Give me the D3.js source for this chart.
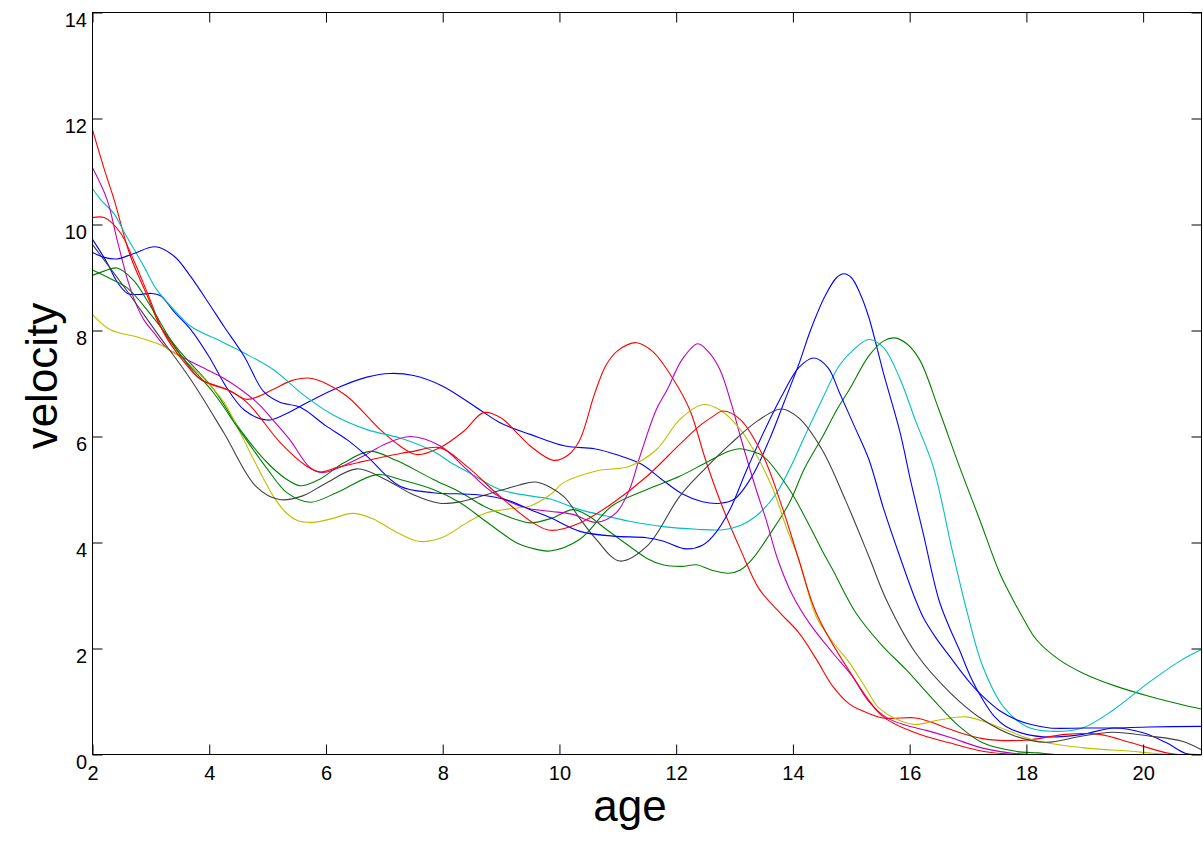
<!DOCTYPE html>
<html>
<head>
<meta charset="utf-8">
<script src="https://cdn.jsdelivr.net/npm/d3@7"></script>
<style>
  html, body { margin: 0; padding: 0; background: #fff; }
  svg { display: block; }
  text { font-family: "Liberation Sans", Arial, Helvetica, sans-serif; fill: #000; }
</style>
</head>
<body>
<svg id="chart" width="1203" height="855"></svg>
<script>
// ---- data: [age, velocity] pairs per boy ----
const boyBlueA = [[2,9.72],[2.25,9.28],[2.42,8.92],[2.6,8.7],[2.8,8.68],[3.0,8.7],[3.16,8.66],[3.4,8.35],[3.68,8.02],[4.0,7.5],[4.3,6.92],[4.6,6.5],[4.99,6.31],[5.3,6.42],[5.73,6.67],[6.2,6.92],[6.7,7.12],[7.1,7.19],[7.5,7.15],[8.0,6.95],[8.64,6.5],[9.0,6.25],[9.5,6.04],[10.1,5.82],[10.6,5.77],[11.0,5.65],[11.4,5.48],[11.8,5.15],[12.1,4.92],[12.45,4.77],[12.75,4.74],[13.0,4.82],[13.3,5.25],[13.6,5.95],[13.85,6.65],[14.1,7.36],[14.3,8.0],[14.55,8.65],[14.75,9.0],[14.87,9.07],[15.0,9.0],[15.15,8.7],[15.3,8.25],[15.55,7.2],[15.83,6.1],[16.03,5.1],[16.23,4.18],[16.5,2.92],[16.68,2.4],[16.85,1.98],[17.05,1.45],[17.25,1.04],[17.45,0.72],[17.65,0.53],[18.0,0.38],[18.4,0.33],[18.96,0.38],[19.5,0.5],[20.0,0.41],[20.4,0.22],[20.73,0.02],[21,0]];
const boyGreenA = [[2,9.14],[2.3,8.98],[2.6,8.8],[3.0,8.3],[3.5,7.6],[4.07,6.9],[4.53,6.13],[5.0,5.5],[5.33,5.19],[5.56,5.07],[5.9,5.2],[6.3,5.5],[6.76,5.72],[7.2,5.55],[7.84,5.19],[8.3,4.95],[8.7,4.69],[9.27,4.43],[9.5,4.37],[9.85,4.45],[10.23,4.62],[10.5,4.5],[10.8,4.25],[11.2,3.93],[11.5,3.7],[11.77,3.58],[12.1,3.55],[12.35,3.58],[12.6,3.48],[12.9,3.42],[13.1,3.48],[13.3,3.68],[13.6,4.15],[13.94,4.75],[14.2,5.4],[14.51,6.0],[14.75,6.5],[14.97,6.89],[15.3,7.52],[15.55,7.8],[15.74,7.86],[15.95,7.75],[16.17,7.45],[16.5,6.51],[16.85,5.44],[17.2,4.43],[17.54,3.43],[17.77,2.92],[17.94,2.58],[18.17,2.17],[18.56,1.79],[18.96,1.54],[19.53,1.29],[20.1,1.1],[20.67,0.94],[21,0.86]];
const boyRedA = [[2,11.79],[2.2,11.05],[2.37,10.47],[2.65,9.4],[2.94,8.65],[3.16,8.08],[3.5,7.55],[3.85,7.08],[4.36,6.86],[4.65,6.7],[5.1,6.89],[5.4,7.05],[5.73,7.1],[6.0,7.0],[6.36,6.76],[6.93,6.13],[7.27,5.82],[7.55,5.66],[7.95,5.79],[8.36,6.1],[8.7,6.45],[9.0,6.35],[9.27,6.07],[9.5,5.82],[9.9,5.55],[10.15,5.65],[10.35,5.94],[10.6,6.8],[10.8,7.35],[11.0,7.62],[11.32,7.77],[11.6,7.6],[11.95,7.08],[12.23,6.51],[12.52,5.5],[12.8,4.65],[13.1,3.87],[13.43,3.11],[13.8,2.65],[14.1,2.3],[14.4,1.8],[14.68,1.29],[14.97,0.95],[15.14,0.85],[15.54,0.69],[16.1,0.69],[16.4,0.6],[16.68,0.48],[17.25,0.3],[17.99,0.27],[18.67,0.38],[19.25,0.38],[19.8,0.22],[20.4,0.03],[20.6,0],[21,0]];
const boyCyan = [[2,10.68],[2.14,10.47],[2.37,10.2],[2.54,9.86],[2.88,9.21],[3.1,8.77],[3.45,8.33],[3.68,8.08],[4.25,7.77],[4.59,7.58],[5.1,7.26],[5.62,6.78],[6.1,6.42],[6.7,6.13],[7.27,5.97],[7.84,5.72],[8.15,5.5],[8.45,5.32],[8.98,5.0],[9.55,4.87],[9.84,4.82],[10.35,4.62],[10.8,4.5],[11.2,4.4],[11.77,4.3],[12.35,4.25],[12.8,4.24],[13.1,4.32],[13.37,4.5],[13.7,4.9],[13.94,5.38],[14.2,6.0],[14.5,6.7],[14.8,7.35],[15.05,7.65],[15.3,7.83],[15.55,7.68],[15.83,7.1],[16.1,6.3],[16.4,5.44],[16.74,3.8],[17.0,2.62],[17.25,1.67],[17.6,0.91],[18.0,0.53],[18.4,0.44],[18.96,0.5],[19.5,0.85],[20.1,1.36],[20.67,1.79],[21,1.98]];
const boyMagenta = [[2,11.07],[2.25,10.47],[2.42,9.72],[2.6,8.96],[2.76,8.46],[2.88,8.2],[3.05,7.96],[3.27,7.67],[3.5,7.52],[3.96,7.26],[4.25,7.1],[4.82,6.64],[5.1,6.3],[5.38,5.94],[5.73,5.41],[5.95,5.32],[6.2,5.4],[6.64,5.63],[7.0,5.85],[7.45,6.0],[7.96,5.82],[8.41,5.38],[8.86,4.94],[9.44,4.65],[9.84,4.59],[10.23,4.53],[10.63,4.38],[10.97,4.56],[11.2,5.0],[11.38,5.63],[11.66,6.51],[11.85,6.89],[12.1,7.45],[12.37,7.75],[12.55,7.6],[12.75,7.26],[12.95,6.6],[13.1,6.0],[13.37,5.0],[13.54,4.43],[13.74,3.68],[14.0,2.99],[14.3,2.45],[14.68,1.92],[15.0,1.5],[15.3,1.0],[15.6,0.7],[15.94,0.55],[16.3,0.45],[16.7,0.32],[17.25,0.12],[17.8,0.02],[18.2,0],[21,0]];
const boyYellow = [[2,8.3],[2.3,8.02],[2.82,7.86],[3.22,7.7],[3.56,7.45],[3.9,7.1],[4.25,6.65],[4.53,6.07],[4.82,5.44],[5.1,4.87],[5.3,4.58],[5.5,4.42],[5.78,4.38],[6.1,4.45],[6.45,4.55],[6.8,4.45],[7.2,4.2],[7.6,4.02],[8.0,4.1],[8.41,4.37],[8.75,4.56],[9.27,4.65],[9.5,4.69],[9.84,4.9],[10.07,5.13],[10.63,5.35],[11.2,5.44],[11.66,5.75],[12.06,6.32],[12.45,6.6],[12.75,6.5],[13.1,6.13],[13.4,5.6],[13.66,5.0],[13.9,4.25],[14.1,3.68],[14.4,2.6],[14.7,2.1],[14.97,1.73],[15.25,1.25],[15.5,0.85],[16.05,0.57],[16.5,0.65],[16.97,0.71],[17.5,0.53],[18.1,0.28],[18.96,0.13],[19.8,0.06],[20.1,0.03],[20.5,0],[21,0]];
const boyGray = [[2,9.62],[2.53,8.84],[3.1,7.96],[3.68,7.08],[4.25,6.07],[4.8,5.06],[5.2,4.81],[5.6,4.88],[6.0,5.12],[6.53,5.39],[7.0,5.2],[7.5,4.9],[7.95,4.74],[8.3,4.77],[8.98,4.98],[9.3,5.08],[9.6,5.14],[10.07,4.87],[10.35,4.45],[10.63,4.06],[11.03,3.65],[11.5,3.93],[12.06,4.87],[12.5,5.4],[12.92,5.85],[13.4,6.3],[13.8,6.52],[14.1,6.35],[14.5,5.75],[14.9,4.8],[15.3,3.74],[15.6,2.92],[16.1,1.92],[16.7,1.16],[17.25,0.66],[17.8,0.35],[18.33,0.23],[18.96,0.35],[19.47,0.42],[20.1,0.35],[20.67,0.25],[21,0.09]];
const boyBlueB = [[2,9.47],[2.2,9.38],[2.42,9.35],[2.7,9.45],[3.08,9.58],[3.4,9.4],[3.68,9.02],[4.0,8.5],[4.25,8.08],[4.6,7.51],[4.93,6.85],[5.2,6.65],[5.56,6.55],[6.0,6.2],[6.36,5.94],[6.7,5.63],[7.27,5.06],[7.84,4.94],[8.6,4.9],[9.1,4.8],[9.5,4.62],[9.84,4.47],[10.35,4.21],[10.92,4.12],[11.49,4.09],[11.77,4.03],[12.17,3.88],[12.45,3.95],[12.63,4.12],[12.92,4.62],[13.2,5.35],[13.55,6.2],[13.85,6.85],[14.1,7.3],[14.36,7.48],[14.6,7.3],[14.8,6.82],[15.05,6.2],[15.3,5.57],[15.55,4.65],[15.83,3.74],[16.1,2.92],[16.25,2.55],[16.45,2.2],[16.68,1.86],[17.0,1.4],[17.25,1.1],[17.55,0.82],[17.82,0.66],[18.1,0.56],[18.4,0.5],[19.0,0.5],[19.5,0.5],[20.1,0.52],[21,0.53]];
const boyGreenB = [[2,9.04],[2.2,9.12],[2.42,9.18],[2.7,8.95],[3.0,8.45],[3.5,7.55],[4.07,6.83],[4.53,6.1],[5.0,5.38],[5.33,4.94],[5.73,4.76],[6.2,4.95],[6.87,5.28],[7.3,5.18],[7.84,5.0],[8.3,4.75],[8.7,4.43],[9.27,3.99],[9.5,3.9],[9.84,3.84],[10.35,4.06],[10.9,4.69],[11.5,5.0],[12.06,5.25],[12.5,5.5],[12.9,5.72],[13.09,5.77],[13.3,5.72],[13.49,5.63],[13.94,5.0],[14.23,4.43],[14.5,3.85],[14.68,3.49],[15.08,2.67],[15.54,2.04],[15.94,1.6],[16.4,1.04],[16.85,0.53],[17.25,0.22],[17.82,0.06],[18.2,0.03],[18.5,0],[21,0]];
const boyRedB = [[2,10.13],[2.2,10.13],[2.48,9.84],[2.7,9.34],[2.94,8.71],[3.22,7.96],[3.5,7.5],[3.85,7.08],[4.3,6.89],[4.65,6.64],[5.22,5.88],[5.67,5.44],[5.9,5.33],[6.2,5.42],[6.64,5.53],[7.27,5.68],[7.5,5.72],[7.95,5.79],[8.41,5.44],[8.98,4.87],[9.55,4.37],[9.84,4.23],[10.35,4.37],[10.92,4.75],[11.5,5.25],[12.06,5.85],[12.4,6.2],[12.63,6.38],[12.8,6.48],[13.1,6.32],[13.49,5.63],[13.83,4.62],[14.1,3.68],[14.4,2.67],[14.97,1.57],[15.54,0.72],[16.1,0.41],[16.68,0.22],[17.25,0.06],[17.8,0],[21,0]];

const seriesList = [boyBlueA, boyGreenA, boyRedA, boyCyan, boyMagenta, boyYellow, boyGray, boyBlueB, boyGreenB, boyRedB];
const seriesColors = ["#0000ff", "#008000", "#ff0000", "#00bfbf", "#bf00bf", "#bfbf00", "#404040", "#0000ff", "#008000", "#ff0000"];
const xTicks = [2, 4, 6, 8, 10, 12, 14, 16, 18, 20];
const yTicks = [0, 2, 4, 6, 8, 10, 12, 14];
const xLabel = "age";
const yLabel = "velocity";

// ---- layout ----
const svg = d3.select("#chart");
const L = 92.5, R = 1201.5, T = 12.5, B = 754.5;
const x = d3.scaleLinear().domain([2, 21]).range([L, R]);
const y = d3.scaleLinear().domain([0, 14]).range([B, T]);

svg.append("defs").append("clipPath").attr("id", "clip")
  .append("rect").attr("x", L).attr("y", T).attr("width", R - L).attr("height", B - T);

const line = d3.line()
  .x(d => x(d[0])).y(d => y(d[1]))
  .curve(d3.curveCatmullRom.alpha(0.5));

const g = svg.append("g").attr("clip-path", "url(#clip)");
seriesList.forEach((s, i) => {
  g.append("path").datum(s)
    .attr("d", line)
    .attr("fill", "none")
    .attr("stroke", seriesColors[i])
    .attr("stroke-width", 1.1);
});

// ---- axes (MATLAB-style box with inward ticks) ----
const tickLen = 10;
const fontFam = '"Liberation Sans", Arial, sans-serif';
const axB = svg.append("g").attr("transform", `translate(0,${B})`)
  .call(d3.axisBottom(x).tickValues(xTicks).tickSizeInner(-tickLen).tickSizeOuter(0).tickPadding(11));
const axT = svg.append("g").attr("transform", `translate(0,${T})`)
  .call(d3.axisTop(x).tickValues(xTicks).tickSizeInner(-tickLen).tickSizeOuter(0).tickFormat(""));
const axL = svg.append("g").attr("transform", `translate(${L},0)`)
  .call(d3.axisLeft(y).tickValues(yTicks).tickSizeInner(-tickLen).tickSizeOuter(0).tickPadding(5.5));
const axR = svg.append("g").attr("transform", `translate(${R},0)`)
  .call(d3.axisRight(y).tickValues(yTicks).tickSizeInner(-tickLen).tickSizeOuter(0).tickFormat(""));

[axB, axT, axL, axR].forEach(a => {
  a.select(".domain").remove();
  a.selectAll(".tick line").attr("stroke", "#000").attr("stroke-width", 1);
  a.selectAll(".tick text").attr("font-size", 20).attr("font-family", fontFam).attr("fill", "#000");
});
axL.selectAll(".tick text").attr("dy", "0.72em");

svg.append("rect").attr("x", L).attr("y", T).attr("width", R - L).attr("height", B - T)
  .attr("fill", "none").attr("stroke", "#000").attr("stroke-width", 1);

svg.append("text").attr("x", 630).attr("y", 821)
  .attr("text-anchor", "middle").attr("font-size", 44).text(xLabel);
svg.append("text").attr("transform", `translate(57,${376}) rotate(-90)`)
  .attr("text-anchor", "middle").attr("font-size", 44).text(yLabel);
</script>
</body>
</html>
